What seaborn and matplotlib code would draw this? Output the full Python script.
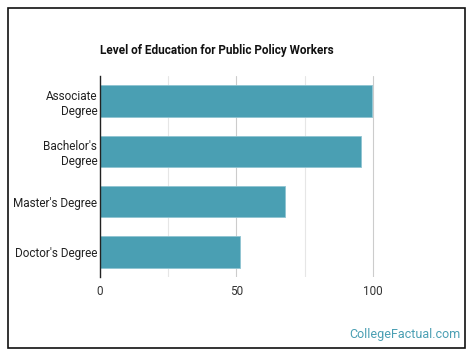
import pandas as pd
import matplotlib.pyplot as plt
import seaborn as sns
from matplotlib.patches import Rectangle

sns.set_theme(style="white")
plt.rcParams["font.family"] = ["Roboto", "DejaVu Sans"]

# data
degrees = ["Associate\nDegree", "Bachelor's\nDegree", "Master's Degree", "Doctor's Degree"]
workers = [99.6, 95.6, 67.8, 51.3]
x_ticks = [0, 50, 100]

df = pd.DataFrame({"Degree": degrees, "Workers": workers})

fig = plt.figure(figsize=(4.76, 3.57), dpi=100)
ax = fig.add_axes([0.210, 0.224, 0.717, 0.563])

# grid lines (minor at 25 / 75 lighter)
for v in [25, 75]:
    ax.axvline(v, color="#e6e6e6", lw=0.8, zorder=0)
for v in [50, 100]:
    ax.axvline(v, color="#cccccc", lw=0.8, zorder=0)

sns.barplot(x="Workers", y="Degree", data=df, color="#4a9fb3", saturation=1,
            width=0.63, edgecolor="#8fc4d2", linewidth=0.6, ax=ax, zorder=2)

ax.set_xlim(0, 125)
ax.set_ylim(3.5, -0.5)
ax.set_xticks(x_ticks)
ax.set_xticklabels([str(t) for t in x_ticks], fontsize=8.5, color="#333333")
ax.tick_params(axis="y", labelsize=8.5, labelcolor="#222222", length=0, pad=2)
ax.tick_params(axis="x", length=0, pad=6)
for lbl in ax.get_yticklabels():
    lbl.set_horizontalalignment("right")
    lbl.set_multialignment("right")
ax.set_xlabel("")
ax.set_ylabel("")
for s in ["top", "right", "bottom"]:
    ax.spines[s].set_visible(False)
ax.spines["left"].set_color("#222222")
ax.spines["left"].set_linewidth(1.0)

fig.text(0.455, 0.858, "Level of Education for Public Policy Workers",
         ha="center", va="center", fontsize=8.5, fontweight="bold", color="#111111")
fig.text(0.968, 0.063, "CollegeFactual.com", ha="right", va="center",
         fontsize=9, color="#4a9fb3")

# outer frame
fig.patches.append(Rectangle((8 / 476, 1 - 348 / 357), 457 / 476, 340 / 357,
                             transform=fig.transFigure, fill=False,
                             edgecolor="#111111", linewidth=1.2))

plt.savefig("out.png", dpi=100)
